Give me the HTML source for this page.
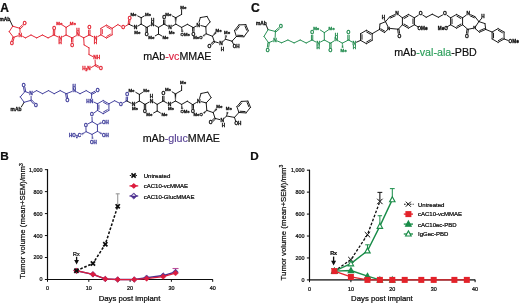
<!DOCTYPE html>
<html><head><meta charset="utf-8"><title>ADC structures and tumor volume</title>
<style>
html,body{margin:0;padding:0;background:#fff;}
svg{display:block;font-family:"Liberation Sans",Arial,Helvetica,sans-serif;}
</style></head>
<body>
<svg width="520" height="303" viewBox="0 0 520 303">
<defs><filter id="soft" x="-2%" y="-2%" width="104%" height="104%"><feGaussianBlur stdDeviation="0.38"/></filter></defs>
<rect width="520" height="303" fill="#fff"/>
<g filter="url(#soft)">
<g stroke-linecap="round" stroke-linejoin="round">
<text x="4.9" y="20.96" fill="#111" stroke="#111" stroke-width="0.3" font-size="4.9" text-anchor="middle" font-weight="bold">mAb</text>
<line x1="9.9" y1="20.4" x2="12.7" y2="26.2" stroke="#111" stroke-width="0.95"/>
<line x1="12.7" y1="26.2" x2="19.8" y2="28.3" stroke="#e21f2d" stroke-width="0.95"/>
<line x1="19.8" y1="28.3" x2="20.11" y2="32.41" stroke="#e21f2d" stroke-width="0.95"/>
<line x1="17.84" y1="35.83" x2="13.5" y2="37.3" stroke="#e21f2d" stroke-width="0.95"/>
<line x1="13.5" y1="37.3" x2="9.2" y2="31.7" stroke="#e21f2d" stroke-width="0.95"/>
<line x1="9.2" y1="31.7" x2="12.7" y2="26.2" stroke="#e21f2d" stroke-width="0.95"/>
<line x1="20.27" y1="28.79" x2="23.29" y2="25.89" stroke="#e21f2d" stroke-width="0.95"/>
<line x1="19.33" y1="27.81" x2="22.36" y2="24.91" stroke="#e21f2d" stroke-width="0.95"/>
<line x1="12.85" y1="37.13" x2="11.9" y2="40.81" stroke="#e21f2d" stroke-width="0.95"/>
<line x1="14.15" y1="37.47" x2="13.2" y2="41.15" stroke="#e21f2d" stroke-width="0.95"/>
<line x1="22.56" y1="36.29" x2="25.4" y2="37.9" stroke="#e21f2d" stroke-width="0.95"/>
<line x1="25.4" y1="37.9" x2="31" y2="35" stroke="#e21f2d" stroke-width="0.95"/>
<line x1="31" y1="35" x2="36.7" y2="37.9" stroke="#e21f2d" stroke-width="0.95"/>
<line x1="36.7" y1="37.9" x2="42.4" y2="35" stroke="#e21f2d" stroke-width="0.95"/>
<line x1="42.4" y1="35" x2="48.1" y2="37.9" stroke="#e21f2d" stroke-width="0.95"/>
<line x1="48.1" y1="37.9" x2="53.9" y2="35" stroke="#e21f2d" stroke-width="0.95"/>
<line x1="54.57" y1="35.03" x2="54.77" y2="30.43" stroke="#e21f2d" stroke-width="0.95"/>
<line x1="53.23" y1="34.97" x2="53.42" y2="30.37" stroke="#e21f2d" stroke-width="0.95"/>
<line x1="53.9" y1="35" x2="57.84" y2="36.81" stroke="#e21f2d" stroke-width="0.95"/>
<text x="60.2" y="43.96" fill="#e21f2d" stroke="#e21f2d" stroke-width="0.3" font-size="4.6" text-anchor="middle" font-weight="bold">H</text>
<line x1="62.53" y1="36.75" x2="66.1" y2="35" stroke="#e21f2d" stroke-width="0.95"/>
<line x1="66.1" y1="35" x2="66.1" y2="27.4" stroke="#e21f2d" stroke-width="0.95"/>
<line x1="66.1" y1="27.4" x2="62.3" y2="25" stroke="#e21f2d" stroke-width="0.95"/>
<line x1="66.1" y1="27.4" x2="69.9" y2="25" stroke="#e21f2d" stroke-width="0.95"/>
<text x="59.3" y="25.18" fill="#e21f2d" stroke="#e21f2d" stroke-width="0.3" font-size="4.4" text-anchor="middle" font-weight="bold">Me</text>
<text x="72.9" y="25.18" fill="#e21f2d" stroke="#e21f2d" stroke-width="0.3" font-size="4.4" text-anchor="middle" font-weight="bold">Me</text>
<line x1="66.1" y1="35" x2="72.2" y2="37.9" stroke="#e21f2d" stroke-width="0.95"/>
<line x1="71.53" y1="37.9" x2="71.53" y2="42.2" stroke="#e21f2d" stroke-width="0.95"/>
<line x1="72.88" y1="37.9" x2="72.88" y2="42.2" stroke="#e21f2d" stroke-width="0.95"/>
<line x1="72.2" y1="37.9" x2="75.63" y2="35.97" stroke="#e21f2d" stroke-width="0.95"/>
<text x="77.9" y="32.06" fill="#e21f2d" stroke="#e21f2d" stroke-width="0.3" font-size="4.6" text-anchor="middle" font-weight="bold">H</text>
<line x1="80.19" y1="35.93" x2="83.7" y2="37.8" stroke="#e21f2d" stroke-width="0.95"/>
<line x1="83.7" y1="37.8" x2="89.3" y2="35" stroke="#e21f2d" stroke-width="0.95"/>
<line x1="89.97" y1="35" x2="89.97" y2="30.1" stroke="#e21f2d" stroke-width="0.95"/>
<line x1="88.62" y1="35" x2="88.62" y2="30.1" stroke="#e21f2d" stroke-width="0.95"/>
<line x1="89.3" y1="35" x2="93.14" y2="36.8" stroke="#e21f2d" stroke-width="0.95"/>
<text x="95.5" y="43.96" fill="#e21f2d" stroke="#e21f2d" stroke-width="0.3" font-size="4.6" text-anchor="middle" font-weight="bold">H</text>
<line x1="97.76" y1="36.62" x2="100.87" y2="34.85" stroke="#e21f2d" stroke-width="0.95"/>
<line x1="106.5" y1="25.1" x2="112.13" y2="28.35" stroke="#e21f2d" stroke-width="0.95"/>
<line x1="106.75" y1="26.86" x2="110.48" y2="29.01" stroke="#e21f2d" stroke-width="0.95"/>
<line x1="112.13" y1="28.35" x2="112.13" y2="34.85" stroke="#e21f2d" stroke-width="0.95"/>
<line x1="112.13" y1="34.85" x2="106.5" y2="38.1" stroke="#e21f2d" stroke-width="0.95"/>
<line x1="110.48" y1="34.19" x2="106.75" y2="36.34" stroke="#e21f2d" stroke-width="0.95"/>
<line x1="106.5" y1="38.1" x2="100.87" y2="34.85" stroke="#e21f2d" stroke-width="0.95"/>
<line x1="100.87" y1="34.85" x2="100.87" y2="28.35" stroke="#e21f2d" stroke-width="0.95"/>
<line x1="102.27" y1="33.75" x2="102.27" y2="29.45" stroke="#e21f2d" stroke-width="0.95"/>
<line x1="100.87" y1="28.35" x2="106.5" y2="25.1" stroke="#e21f2d" stroke-width="0.95"/>
<line x1="112.13" y1="28.35" x2="117.9" y2="24.6" stroke="#e21f2d" stroke-width="0.95"/>
<line x1="117.9" y1="24.6" x2="120.92" y2="26.25" stroke="#e21f2d" stroke-width="0.95"/>
<line x1="125.44" y1="26.18" x2="128.8" y2="24.2" stroke="#e21f2d" stroke-width="0.95"/>
<line x1="129.47" y1="24.29" x2="129.94" y2="20.56" stroke="#e21f2d" stroke-width="0.95"/>
<line x1="128.13" y1="24.11" x2="128.6" y2="20.39" stroke="#e21f2d" stroke-width="0.95"/>
<line x1="83.7" y1="37.8" x2="84.1" y2="44.9" stroke="#e21f2d" stroke-width="0.95"/>
<line x1="84.1" y1="44.9" x2="89" y2="47.8" stroke="#e21f2d" stroke-width="0.95"/>
<line x1="89" y1="47.8" x2="89" y2="54.6" stroke="#e21f2d" stroke-width="0.95"/>
<line x1="89" y1="54.6" x2="92.96" y2="56.64" stroke="#e21f2d" stroke-width="0.95"/>
<line x1="95.09" y1="60" x2="95.3" y2="65.2" stroke="#e21f2d" stroke-width="0.95"/>
<text x="98.4" y="59.36" fill="#e21f2d" stroke="#e21f2d" stroke-width="0.3" font-size="4.6" text-anchor="middle" font-weight="bold">H</text>
<line x1="94.99" y1="65.8" x2="98.38" y2="67.59" stroke="#e21f2d" stroke-width="0.95"/>
<line x1="95.61" y1="64.6" x2="99.01" y2="66.39" stroke="#e21f2d" stroke-width="0.95"/>
<line x1="95.3" y1="65.2" x2="91" y2="67.6" stroke="#e21f2d" stroke-width="0.95"/>
<text x="90.6" y="69.9" fill="#e21f2d" stroke="#e21f2d" stroke-width="0.3" font-size="4.6" text-anchor="end" font-weight="bold">H<tspan font-size="3.2" dy="0.9">2</tspan><tspan dy="-0.9">N</tspan></text>
<text x="20.3" y="36.76" fill="#e21f2d" stroke="#e21f2d" stroke-width="0.3" font-size="4.9" text-anchor="middle" font-weight="bold">N</text>
<text x="24.7" y="25.36" fill="#e21f2d" stroke="#e21f2d" stroke-width="0.3" font-size="4.9" text-anchor="middle" font-weight="bold">O</text>
<text x="11.9" y="45.26" fill="#e21f2d" stroke="#e21f2d" stroke-width="0.3" font-size="4.9" text-anchor="middle" font-weight="bold">O</text>
<text x="54.2" y="29.56" fill="#e21f2d" stroke="#e21f2d" stroke-width="0.3" font-size="4.9" text-anchor="middle" font-weight="bold">O</text>
<text x="60.2" y="39.66" fill="#e21f2d" stroke="#e21f2d" stroke-width="0.3" font-size="4.9" text-anchor="middle" font-weight="bold">N</text>
<text x="72.2" y="46.56" fill="#e21f2d" stroke="#e21f2d" stroke-width="0.3" font-size="4.9" text-anchor="middle" font-weight="bold">O</text>
<text x="77.9" y="36.46" fill="#e21f2d" stroke="#e21f2d" stroke-width="0.3" font-size="4.9" text-anchor="middle" font-weight="bold">N</text>
<text x="89.3" y="29.26" fill="#e21f2d" stroke="#e21f2d" stroke-width="0.3" font-size="4.9" text-anchor="middle" font-weight="bold">O</text>
<text x="95.5" y="39.66" fill="#e21f2d" stroke="#e21f2d" stroke-width="0.3" font-size="4.9" text-anchor="middle" font-weight="bold">N</text>
<text x="123.2" y="29.26" fill="#e21f2d" stroke="#e21f2d" stroke-width="0.3" font-size="4.9" text-anchor="middle" font-weight="bold">O</text>
<text x="129.6" y="19.66" fill="#e21f2d" stroke="#e21f2d" stroke-width="0.3" font-size="4.9" text-anchor="middle" font-weight="bold">O</text>
<text x="95" y="59.46" fill="#e21f2d" stroke="#e21f2d" stroke-width="0.3" font-size="4.9" text-anchor="middle" font-weight="bold">N</text>
<text x="101" y="69.96" fill="#e21f2d" stroke="#e21f2d" stroke-width="0.3" font-size="4.9" text-anchor="middle" font-weight="bold">O</text>
<line x1="128.8" y1="24.2" x2="133.25" y2="26.29" stroke="#111" stroke-width="0.95"/>
<text x="137.3" y="33.78" fill="#111" stroke="#111" stroke-width="0.3" font-size="4.4" text-anchor="middle" font-weight="bold">Me</text>
<line x1="137.84" y1="26.08" x2="141.2" y2="24.1" stroke="#111" stroke-width="0.95"/>
<line x1="141.2" y1="24.1" x2="141.2" y2="17.7" stroke="#111" stroke-width="0.95"/>
<text x="133.5" y="15.88" fill="#111" stroke="#111" stroke-width="0.3" font-size="4.4" text-anchor="middle" font-weight="bold">Me</text>
<line x1="141.2" y1="17.7" x2="137.73" y2="16" stroke="#111" stroke-width="0.95"/>
<text x="148" y="15.88" fill="#111" stroke="#111" stroke-width="0.3" font-size="4.4" text-anchor="middle" font-weight="bold">Me</text>
<line x1="141.2" y1="17.7" x2="144.26" y2="16" stroke="#111" stroke-width="0.95"/>
<line x1="141.2" y1="24.1" x2="146.7" y2="27.4" stroke="#111" stroke-width="0.95"/>
<line x1="146.02" y1="27.4" x2="146.02" y2="31.7" stroke="#111" stroke-width="0.95"/>
<line x1="147.38" y1="27.4" x2="147.38" y2="31.7" stroke="#111" stroke-width="0.95"/>
<line x1="146.7" y1="27.4" x2="150.33" y2="25.37" stroke="#111" stroke-width="0.95"/>
<text x="152.6" y="21.56" fill="#111" stroke="#111" stroke-width="0.3" font-size="4.6" text-anchor="middle" font-weight="bold">H</text>
<line x1="154.87" y1="25.37" x2="158.5" y2="27.4" stroke="#111" stroke-width="0.95"/>
<line x1="158.5" y1="27.4" x2="158.5" y2="34" stroke="#111" stroke-width="0.95"/>
<text x="151.3" y="39.28" fill="#111" stroke="#111" stroke-width="0.3" font-size="4.4" text-anchor="middle" font-weight="bold">Me</text>
<line x1="158.5" y1="34" x2="155.26" y2="35.85" stroke="#111" stroke-width="0.95"/>
<text x="165.5" y="39.28" fill="#111" stroke="#111" stroke-width="0.3" font-size="4.4" text-anchor="middle" font-weight="bold">Me</text>
<line x1="158.5" y1="34" x2="161.65" y2="35.85" stroke="#111" stroke-width="0.95"/>
<line x1="158.5" y1="27.4" x2="164.2" y2="24.1" stroke="#111" stroke-width="0.95"/>
<line x1="164.88" y1="24.1" x2="164.88" y2="20" stroke="#111" stroke-width="0.95"/>
<line x1="163.52" y1="24.1" x2="163.52" y2="20" stroke="#111" stroke-width="0.95"/>
<line x1="164.2" y1="24.1" x2="167.83" y2="26.13" stroke="#111" stroke-width="0.95"/>
<text x="171.7" y="33.68" fill="#111" stroke="#111" stroke-width="0.3" font-size="4.4" text-anchor="middle" font-weight="bold">Me</text>
<line x1="172.35" y1="26.1" x2="175.8" y2="24.1" stroke="#111" stroke-width="0.95"/>
<polygon points="175.8,24.1 176.45,17.7 175.15,17.7" fill="#111" stroke="#111" stroke-width="0.3"/>
<text x="168.3" y="15.98" fill="#111" stroke="#111" stroke-width="0.3" font-size="4.4" text-anchor="middle" font-weight="bold">Me</text>
<line x1="175.8" y1="17.7" x2="172.43" y2="16.05" stroke="#111" stroke-width="0.95"/>
<line x1="175.8" y1="17.7" x2="181.6" y2="14.4" stroke="#111" stroke-width="0.95"/>
<line x1="181.6" y1="14.4" x2="181.6" y2="9.6" stroke="#111" stroke-width="0.95"/>
<text x="183.3" y="8.98" fill="#111" stroke="#111" stroke-width="0.3" font-size="4.4" text-anchor="middle" font-weight="bold">Me</text>
<line x1="175.8" y1="24.1" x2="181.6" y2="27.4" stroke="#111" stroke-width="0.95"/>
<polygon points="181.6,27.4 181.56,31.99 182.84,31.81" fill="#111" stroke="#111" stroke-width="0.3"/>
<text x="180.6" y="35.8" fill="#111" stroke="#111" stroke-width="0.3" font-size="4.3" text-anchor="start" font-weight="bold">OMe</text>
<line x1="181.6" y1="27.4" x2="187.4" y2="24.3" stroke="#111" stroke-width="0.95"/>
<line x1="187.4" y1="24.3" x2="193.3" y2="27.6" stroke="#111" stroke-width="0.95"/>
<line x1="192.62" y1="27.6" x2="192.62" y2="31.4" stroke="#111" stroke-width="0.95"/>
<line x1="193.98" y1="27.6" x2="193.98" y2="31.4" stroke="#111" stroke-width="0.95"/>
<line x1="193.3" y1="27.6" x2="195.92" y2="26.18" stroke="#111" stroke-width="0.95"/>
<line x1="199.01" y1="22.3" x2="200.3" y2="17.6" stroke="#111" stroke-width="0.95"/>
<line x1="200.3" y1="17.6" x2="207" y2="16.4" stroke="#111" stroke-width="0.95"/>
<line x1="207" y1="16.4" x2="210.1" y2="21.9" stroke="#111" stroke-width="0.95"/>
<line x1="210.1" y1="21.9" x2="205.8" y2="26.8" stroke="#111" stroke-width="0.95"/>
<line x1="205.8" y1="26.8" x2="200.92" y2="25.56" stroke="#111" stroke-width="0.95"/>
<line x1="205.8" y1="26.8" x2="206.2" y2="33.8" stroke="#111" stroke-width="0.95"/>
<text x="197.9" y="39.2" fill="#111" stroke="#111" stroke-width="0.3" font-size="4.3" text-anchor="middle" font-weight="bold">MeO</text>
<polygon points="206.2,33.8 203.08,35.35 203.72,36.25" fill="#111" stroke="#111" stroke-width="0.3"/>
<line x1="206.2" y1="33.8" x2="212.5" y2="36.3" stroke="#111" stroke-width="0.95"/>
<text x="218.6" y="31.78" fill="#111" stroke="#111" stroke-width="0.3" font-size="4.4" text-anchor="middle" font-weight="bold">Me</text>
<polygon points="212.5,36.3 216.38,32.98 215.33,32.05" fill="#111" stroke="#111" stroke-width="0.3"/>
<line x1="212.5" y1="36.3" x2="214.3" y2="41.6" stroke="#111" stroke-width="0.95"/>
<line x1="213.85" y1="41.1" x2="210.99" y2="43.66" stroke="#111" stroke-width="0.95"/>
<line x1="214.75" y1="42.1" x2="211.89" y2="44.67" stroke="#111" stroke-width="0.95"/>
<line x1="214.3" y1="41.6" x2="218.4" y2="42.78" stroke="#111" stroke-width="0.95"/>
<text x="222.4" y="50.56" fill="#111" stroke="#111" stroke-width="0.3" font-size="4.6" text-anchor="middle" font-weight="bold">H</text>
<line x1="222.78" y1="41.7" x2="225.4" y2="39.2" stroke="#111" stroke-width="0.95"/>
<text x="227.1" y="33.68" fill="#111" stroke="#111" stroke-width="0.3" font-size="4.4" text-anchor="middle" font-weight="bold">Me</text>
<polygon points="225.4,39.2 226.8,35.79 225.53,35.51" fill="#111" stroke="#111" stroke-width="0.3"/>
<line x1="225.4" y1="39.2" x2="232" y2="41.2" stroke="#111" stroke-width="0.95"/>
<text x="236.2" y="48.05" fill="#111" stroke="#111" stroke-width="0.3" font-size="4.6" text-anchor="middle" font-weight="bold">OH</text>
<line x1="232" y1="41.2" x2="233.61" y2="44.42" stroke="#111" stroke-width="0.95"/>
<line x1="232" y1="41.2" x2="236.4" y2="36.5" stroke="#111" stroke-width="0.95"/>
<line x1="236.4" y1="36.5" x2="234.5" y2="30.5" stroke="#111" stroke-width="0.95"/>
<line x1="234.5" y1="30.5" x2="238.9" y2="24.9" stroke="#111" stroke-width="0.95"/>
<line x1="236.2" y1="30.44" x2="239.24" y2="26.57" stroke="#111" stroke-width="0.95"/>
<line x1="238.9" y1="24.9" x2="245.8" y2="24.6" stroke="#111" stroke-width="0.95"/>
<line x1="245.8" y1="24.6" x2="248.3" y2="30.8" stroke="#111" stroke-width="0.95"/>
<line x1="245.01" y1="26.11" x2="246.68" y2="30.27" stroke="#111" stroke-width="0.95"/>
<line x1="248.3" y1="30.8" x2="243.9" y2="36.8" stroke="#111" stroke-width="0.95"/>
<line x1="243.9" y1="36.8" x2="236.4" y2="36.5" stroke="#111" stroke-width="0.95"/>
<line x1="242.85" y1="35.46" x2="237.55" y2="35.25" stroke="#111" stroke-width="0.95"/>
<text x="135.6" y="29.16" fill="#111" stroke="#111" stroke-width="0.3" font-size="4.9" text-anchor="middle" font-weight="bold">N</text>
<text x="146.7" y="36.06" fill="#111" stroke="#111" stroke-width="0.3" font-size="4.9" text-anchor="middle" font-weight="bold">O</text>
<text x="152.6" y="25.86" fill="#111" stroke="#111" stroke-width="0.3" font-size="4.9" text-anchor="middle" font-weight="bold">N</text>
<text x="164.2" y="19.16" fill="#111" stroke="#111" stroke-width="0.3" font-size="4.9" text-anchor="middle" font-weight="bold">O</text>
<text x="170.1" y="29.16" fill="#111" stroke="#111" stroke-width="0.3" font-size="4.9" text-anchor="middle" font-weight="bold">N</text>
<text x="193.3" y="35.76" fill="#111" stroke="#111" stroke-width="0.3" font-size="4.9" text-anchor="middle" font-weight="bold">O</text>
<text x="198.3" y="26.66" fill="#111" stroke="#111" stroke-width="0.3" font-size="4.9" text-anchor="middle" font-weight="bold">N</text>
<text x="209.5" y="47.66" fill="#111" stroke="#111" stroke-width="0.3" font-size="4.9" text-anchor="middle" font-weight="bold">O</text>
<text x="220.9" y="45.26" fill="#111" stroke="#111" stroke-width="0.3" font-size="4.9" text-anchor="middle" font-weight="bold">N</text>
<text x="16" y="110.76" fill="#111" stroke="#111" stroke-width="0.3" font-size="4.9" text-anchor="middle" font-weight="bold">mAb</text>
<line x1="24.1" y1="102.3" x2="21.3" y2="107" stroke="#111" stroke-width="0.95"/>
<line x1="28.65" y1="92.82" x2="25" y2="91.5" stroke="#3c3a99" stroke-width="0.95"/>
<line x1="25" y1="91.5" x2="20.3" y2="96.9" stroke="#3c3a99" stroke-width="0.95"/>
<line x1="20.3" y1="96.9" x2="24.1" y2="102.3" stroke="#3c3a99" stroke-width="0.95"/>
<line x1="24.1" y1="102.3" x2="31.1" y2="100.3" stroke="#3c3a99" stroke-width="0.95"/>
<line x1="31.1" y1="100.3" x2="31.1" y2="96.3" stroke="#3c3a99" stroke-width="0.95"/>
<line x1="25.66" y1="91.37" x2="24.86" y2="87.32" stroke="#3c3a99" stroke-width="0.95"/>
<line x1="24.34" y1="91.63" x2="23.54" y2="87.58" stroke="#3c3a99" stroke-width="0.95"/>
<line x1="30.61" y1="100.76" x2="33.63" y2="103.97" stroke="#3c3a99" stroke-width="0.95"/>
<line x1="31.59" y1="99.84" x2="34.61" y2="103.04" stroke="#3c3a99" stroke-width="0.95"/>
<line x1="33.36" y1="92.42" x2="36.6" y2="90.6" stroke="#3c3a99" stroke-width="0.95"/>
<line x1="36.6" y1="90.6" x2="42.6" y2="93.7" stroke="#3c3a99" stroke-width="0.95"/>
<line x1="42.6" y1="93.7" x2="48.5" y2="90.6" stroke="#3c3a99" stroke-width="0.95"/>
<line x1="48.5" y1="90.6" x2="54.2" y2="93.7" stroke="#3c3a99" stroke-width="0.95"/>
<line x1="54.2" y1="93.7" x2="60.2" y2="90.6" stroke="#3c3a99" stroke-width="0.95"/>
<line x1="60.2" y1="90.6" x2="66.3" y2="93.7" stroke="#3c3a99" stroke-width="0.95"/>
<line x1="65.63" y1="93.81" x2="66.32" y2="98.04" stroke="#3c3a99" stroke-width="0.95"/>
<line x1="66.97" y1="93.59" x2="67.65" y2="97.83" stroke="#3c3a99" stroke-width="0.95"/>
<line x1="66.3" y1="93.7" x2="71.78" y2="91.55" stroke="#3c3a99" stroke-width="0.95"/>
<text x="74.2" y="87.86" fill="#3c3a99" stroke="#3c3a99" stroke-width="0.3" font-size="4.6" text-anchor="middle" font-weight="bold">H</text>
<line x1="76.49" y1="91.83" x2="80" y2="93.7" stroke="#3c3a99" stroke-width="0.95"/>
<line x1="80" y1="93.7" x2="86.2" y2="90.6" stroke="#3c3a99" stroke-width="0.95"/>
<line x1="86.2" y1="90.6" x2="91.6" y2="93.7" stroke="#3c3a99" stroke-width="0.95"/>
<line x1="91.91" y1="94.3" x2="95.69" y2="92.38" stroke="#3c3a99" stroke-width="0.95"/>
<line x1="91.29" y1="93.1" x2="95.08" y2="91.18" stroke="#3c3a99" stroke-width="0.95"/>
<line x1="91.6" y1="93.7" x2="91.6" y2="98.4" stroke="#3c3a99" stroke-width="0.95"/>
<text x="88" y="102.66" fill="#3c3a99" stroke="#3c3a99" stroke-width="0.3" font-size="4.6" text-anchor="middle" font-weight="bold">H</text>
<line x1="93.95" y1="102.12" x2="97.48" y2="103.8" stroke="#3c3a99" stroke-width="0.95"/>
<line x1="103.2" y1="100.5" x2="108.92" y2="103.8" stroke="#3c3a99" stroke-width="0.95"/>
<line x1="103.45" y1="102.26" x2="107.26" y2="104.46" stroke="#3c3a99" stroke-width="0.95"/>
<line x1="108.92" y1="103.8" x2="108.92" y2="110.4" stroke="#3c3a99" stroke-width="0.95"/>
<line x1="108.92" y1="110.4" x2="103.2" y2="113.7" stroke="#3c3a99" stroke-width="0.95"/>
<line x1="107.26" y1="109.74" x2="103.45" y2="111.94" stroke="#3c3a99" stroke-width="0.95"/>
<line x1="103.2" y1="113.7" x2="97.48" y2="110.4" stroke="#3c3a99" stroke-width="0.95"/>
<line x1="97.48" y1="110.4" x2="97.48" y2="103.8" stroke="#3c3a99" stroke-width="0.95"/>
<line x1="98.88" y1="109.3" x2="98.88" y2="104.9" stroke="#3c3a99" stroke-width="0.95"/>
<line x1="97.48" y1="103.8" x2="103.2" y2="100.5" stroke="#3c3a99" stroke-width="0.95"/>
<line x1="97.48" y1="110.4" x2="94" y2="112.96" stroke="#3c3a99" stroke-width="0.95"/>
<line x1="108.92" y1="103.8" x2="114.6" y2="100.7" stroke="#3c3a99" stroke-width="0.95"/>
<line x1="114.6" y1="100.7" x2="118.69" y2="102.81" stroke="#3c3a99" stroke-width="0.95"/>
<line x1="123.28" y1="102.76" x2="126.7" y2="100.9" stroke="#3c3a99" stroke-width="0.95"/>
<line x1="127.37" y1="100.94" x2="127.61" y2="97.14" stroke="#3c3a99" stroke-width="0.95"/>
<line x1="126.03" y1="100.86" x2="126.26" y2="97.05" stroke="#3c3a99" stroke-width="0.95"/>
<line x1="92.01" y1="117.1" x2="92.2" y2="121.7" stroke="#3c3a99" stroke-width="0.95"/>
<line x1="92.2" y1="121.7" x2="97.4" y2="124.8" stroke="#3c3a99" stroke-width="0.95"/>
<line x1="97.4" y1="124.8" x2="97.5" y2="131.3" stroke="#3c3a99" stroke-width="0.95"/>
<line x1="97.5" y1="131.3" x2="92" y2="134.4" stroke="#3c3a99" stroke-width="0.95"/>
<line x1="92" y1="134.4" x2="86.1" y2="131.7" stroke="#3c3a99" stroke-width="0.95"/>
<line x1="86.1" y1="131.7" x2="85.92" y2="127.6" stroke="#3c3a99" stroke-width="0.95"/>
<line x1="88.11" y1="123.81" x2="92.2" y2="121.7" stroke="#3c3a99" stroke-width="0.95"/>
<polygon points="97.4,124.8 101.68,123.23 101.12,122.17" fill="#3c3a99" stroke="#3c3a99" stroke-width="0.3"/>
<text x="102" y="123.6" fill="#3c3a99" stroke="#3c3a99" stroke-width="0.3" font-size="4.6" text-anchor="start" font-weight="bold">OH</text>
<polygon points="97.5,131.3 101.18,134.31 101.82,133.29" fill="#3c3a99" stroke="#3c3a99" stroke-width="0.3"/>
<text x="102" y="136.9" fill="#3c3a99" stroke="#3c3a99" stroke-width="0.3" font-size="4.6" text-anchor="start" font-weight="bold">OH</text>
<polygon points="92,134.4 91.85,138.65 92.95,138.55" fill="#3c3a99" stroke="#3c3a99" stroke-width="0.3"/>
<text x="89.9" y="144.1" fill="#3c3a99" stroke="#3c3a99" stroke-width="0.3" font-size="4.6" text-anchor="start" font-weight="bold">OH</text>
<polygon points="86.1,131.7 81.3,133.78 81.9,134.82" fill="#3c3a99" stroke="#3c3a99" stroke-width="0.3"/>
<text x="81.0" y="137.2" fill="#3c3a99" stroke="#3c3a99" stroke-width="0.3" font-size="4.6" text-anchor="end" font-weight="bold">HO<tspan font-size="3.2" dy="0.9">2</tspan><tspan dy="-0.9">C</tspan></text>
<text x="31.1" y="95.46" fill="#3c3a99" stroke="#3c3a99" stroke-width="0.3" font-size="4.9" text-anchor="middle" font-weight="bold">N</text>
<text x="23.7" y="86.66" fill="#3c3a99" stroke="#3c3a99" stroke-width="0.3" font-size="4.9" text-anchor="middle" font-weight="bold">O</text>
<text x="35.9" y="107.16" fill="#3c3a99" stroke="#3c3a99" stroke-width="0.3" font-size="4.9" text-anchor="middle" font-weight="bold">O</text>
<text x="67.4" y="102.26" fill="#3c3a99" stroke="#3c3a99" stroke-width="0.3" font-size="4.9" text-anchor="middle" font-weight="bold">O</text>
<text x="74.2" y="92.36" fill="#3c3a99" stroke="#3c3a99" stroke-width="0.3" font-size="4.9" text-anchor="middle" font-weight="bold">N</text>
<text x="97.7" y="92.36" fill="#3c3a99" stroke="#3c3a99" stroke-width="0.3" font-size="4.9" text-anchor="middle" font-weight="bold">O</text>
<text x="91.6" y="102.76" fill="#3c3a99" stroke="#3c3a99" stroke-width="0.3" font-size="4.9" text-anchor="middle" font-weight="bold">N</text>
<text x="91.9" y="116.26" fill="#3c3a99" stroke="#3c3a99" stroke-width="0.3" font-size="4.9" text-anchor="middle" font-weight="bold">O</text>
<text x="121" y="105.76" fill="#3c3a99" stroke="#3c3a99" stroke-width="0.3" font-size="4.9" text-anchor="middle" font-weight="bold">O</text>
<text x="127.1" y="96.26" fill="#3c3a99" stroke="#3c3a99" stroke-width="0.3" font-size="4.9" text-anchor="middle" font-weight="bold">O</text>
<text x="85.8" y="126.76" fill="#3c3a99" stroke="#3c3a99" stroke-width="0.3" font-size="4.9" text-anchor="middle" font-weight="bold">O</text>
<line x1="126.7" y1="100.9" x2="131.19" y2="103.21" stroke="#111" stroke-width="0.95"/>
<text x="135" y="110.38" fill="#111" stroke="#111" stroke-width="0.3" font-size="4.4" text-anchor="middle" font-weight="bold">Me</text>
<line x1="135.75" y1="103.1" x2="139.4" y2="101" stroke="#111" stroke-width="0.95"/>
<line x1="139.4" y1="101" x2="139.4" y2="94.4" stroke="#111" stroke-width="0.95"/>
<text x="131.5" y="91.98" fill="#111" stroke="#111" stroke-width="0.3" font-size="4.4" text-anchor="middle" font-weight="bold">Me</text>
<line x1="139.4" y1="94.4" x2="135.84" y2="92.4" stroke="#111" stroke-width="0.95"/>
<text x="146.4" y="91.98" fill="#111" stroke="#111" stroke-width="0.3" font-size="4.4" text-anchor="middle" font-weight="bold">Me</text>
<line x1="139.4" y1="94.4" x2="142.55" y2="92.4" stroke="#111" stroke-width="0.95"/>
<line x1="139.4" y1="101" x2="145" y2="104.4" stroke="#111" stroke-width="0.95"/>
<line x1="144.32" y1="104.4" x2="144.32" y2="108.8" stroke="#111" stroke-width="0.95"/>
<line x1="145.68" y1="104.4" x2="145.68" y2="108.8" stroke="#111" stroke-width="0.95"/>
<line x1="145" y1="104.4" x2="149.13" y2="102.07" stroke="#111" stroke-width="0.95"/>
<text x="151.4" y="98.06" fill="#111" stroke="#111" stroke-width="0.3" font-size="4.6" text-anchor="middle" font-weight="bold">H</text>
<line x1="153.61" y1="102.17" x2="157.2" y2="104.4" stroke="#111" stroke-width="0.95"/>
<line x1="157.2" y1="104.4" x2="157.2" y2="111" stroke="#111" stroke-width="0.95"/>
<text x="149.3" y="116.48" fill="#111" stroke="#111" stroke-width="0.3" font-size="4.4" text-anchor="middle" font-weight="bold">Me</text>
<line x1="157.2" y1="111" x2="153.65" y2="112.95" stroke="#111" stroke-width="0.95"/>
<text x="164.5" y="116.48" fill="#111" stroke="#111" stroke-width="0.3" font-size="4.4" text-anchor="middle" font-weight="bold">Me</text>
<line x1="157.2" y1="111" x2="160.48" y2="112.95" stroke="#111" stroke-width="0.95"/>
<line x1="157.2" y1="104.4" x2="163.3" y2="101" stroke="#111" stroke-width="0.95"/>
<line x1="163.98" y1="101" x2="163.98" y2="96.3" stroke="#111" stroke-width="0.95"/>
<line x1="162.62" y1="101" x2="162.62" y2="96.3" stroke="#111" stroke-width="0.95"/>
<line x1="163.3" y1="101" x2="167.13" y2="103.13" stroke="#111" stroke-width="0.95"/>
<text x="171" y="110.38" fill="#111" stroke="#111" stroke-width="0.3" font-size="4.4" text-anchor="middle" font-weight="bold">Me</text>
<line x1="171.67" y1="103.13" x2="175.5" y2="101" stroke="#111" stroke-width="0.95"/>
<polygon points="175.5,101 176.15,93.9 174.85,93.9" fill="#111" stroke="#111" stroke-width="0.3"/>
<text x="168" y="91.48" fill="#111" stroke="#111" stroke-width="0.3" font-size="4.4" text-anchor="middle" font-weight="bold">Me</text>
<line x1="175.5" y1="93.9" x2="172.12" y2="91.9" stroke="#111" stroke-width="0.95"/>
<line x1="175.5" y1="93.9" x2="181.6" y2="90.4" stroke="#111" stroke-width="0.95"/>
<line x1="181.6" y1="90.4" x2="181.6" y2="85.6" stroke="#111" stroke-width="0.95"/>
<text x="183.1" y="84.48" fill="#111" stroke="#111" stroke-width="0.3" font-size="4.4" text-anchor="middle" font-weight="bold">Me</text>
<line x1="175.5" y1="101" x2="181.6" y2="104.4" stroke="#111" stroke-width="0.95"/>
<polygon points="181.6,104.4 181.35,109.06 182.65,108.94" fill="#111" stroke="#111" stroke-width="0.3"/>
<text x="180.4" y="112.9" fill="#111" stroke="#111" stroke-width="0.3" font-size="4.3" text-anchor="start" font-weight="bold">OMe</text>
<line x1="181.6" y1="104.4" x2="187.3" y2="101.2" stroke="#111" stroke-width="0.95"/>
<line x1="187.3" y1="101.2" x2="192.8" y2="104.7" stroke="#111" stroke-width="0.95"/>
<line x1="192.12" y1="104.7" x2="192.12" y2="108.5" stroke="#111" stroke-width="0.95"/>
<line x1="193.48" y1="104.7" x2="193.48" y2="108.5" stroke="#111" stroke-width="0.95"/>
<line x1="192.8" y1="104.7" x2="196.5" y2="102.42" stroke="#111" stroke-width="0.95"/>
<line x1="199.56" y1="98.41" x2="201" y2="93.5" stroke="#111" stroke-width="0.95"/>
<line x1="201" y1="93.5" x2="207.8" y2="92.1" stroke="#111" stroke-width="0.95"/>
<line x1="207.8" y1="92.1" x2="211.1" y2="97.7" stroke="#111" stroke-width="0.95"/>
<line x1="211.1" y1="97.7" x2="206.2" y2="102.9" stroke="#111" stroke-width="0.95"/>
<line x1="206.2" y1="102.9" x2="201.42" y2="101.67" stroke="#111" stroke-width="0.95"/>
<line x1="206.2" y1="102.9" x2="206.8" y2="110.4" stroke="#111" stroke-width="0.95"/>
<text x="198.2" y="116.4" fill="#111" stroke="#111" stroke-width="0.3" font-size="4.3" text-anchor="middle" font-weight="bold">MeO</text>
<polygon points="206.8,110.4 203.35,112.58 204.05,113.42" fill="#111" stroke="#111" stroke-width="0.3"/>
<line x1="206.8" y1="110.4" x2="213.2" y2="112.6" stroke="#111" stroke-width="0.95"/>
<text x="219.4" y="108.48" fill="#111" stroke="#111" stroke-width="0.3" font-size="4.4" text-anchor="middle" font-weight="bold">Me</text>
<polygon points="213.2,112.6 217.11,109.55 216.11,108.58" fill="#111" stroke="#111" stroke-width="0.3"/>
<line x1="213.2" y1="112.6" x2="215.1" y2="118.4" stroke="#111" stroke-width="0.95"/>
<line x1="214.63" y1="117.92" x2="212.09" y2="120.4" stroke="#111" stroke-width="0.95"/>
<line x1="215.57" y1="118.88" x2="213.03" y2="121.37" stroke="#111" stroke-width="0.95"/>
<line x1="215.1" y1="118.4" x2="219.68" y2="119.56" stroke="#111" stroke-width="0.95"/>
<text x="223.3" y="127.06" fill="#111" stroke="#111" stroke-width="0.3" font-size="4.6" text-anchor="middle" font-weight="bold">H</text>
<line x1="224.08" y1="118.4" x2="226.6" y2="116" stroke="#111" stroke-width="0.95"/>
<text x="228.8" y="110.18" fill="#111" stroke="#111" stroke-width="0.3" font-size="4.4" text-anchor="middle" font-weight="bold">Me</text>
<polygon points="226.6,116 228.22,112.47 226.96,112.13" fill="#111" stroke="#111" stroke-width="0.3"/>
<line x1="226.6" y1="116" x2="234.5" y2="117.4" stroke="#111" stroke-width="0.95"/>
<text x="238" y="125.35" fill="#111" stroke="#111" stroke-width="0.3" font-size="4.6" text-anchor="middle" font-weight="bold">OH</text>
<line x1="234.5" y1="117.4" x2="235.68" y2="121.31" stroke="#111" stroke-width="0.95"/>
<line x1="234.5" y1="117.4" x2="238.9" y2="112.5" stroke="#111" stroke-width="0.95"/>
<line x1="238.9" y1="112.5" x2="236.9" y2="106.6" stroke="#111" stroke-width="0.95"/>
<line x1="236.9" y1="106.6" x2="241.3" y2="101.4" stroke="#111" stroke-width="0.95"/>
<line x1="238.6" y1="106.6" x2="241.58" y2="103.08" stroke="#111" stroke-width="0.95"/>
<line x1="241.3" y1="101.4" x2="247.9" y2="101.1" stroke="#111" stroke-width="0.95"/>
<line x1="247.9" y1="101.1" x2="250.5" y2="107.3" stroke="#111" stroke-width="0.95"/>
<line x1="247.13" y1="102.62" x2="248.88" y2="106.79" stroke="#111" stroke-width="0.95"/>
<line x1="250.5" y1="107.3" x2="246.1" y2="112.9" stroke="#111" stroke-width="0.95"/>
<line x1="246.1" y1="112.9" x2="238.9" y2="112.5" stroke="#111" stroke-width="0.95"/>
<line x1="245.07" y1="111.54" x2="240.07" y2="111.26" stroke="#111" stroke-width="0.95"/>
<text x="133.5" y="106.16" fill="#111" stroke="#111" stroke-width="0.3" font-size="4.9" text-anchor="middle" font-weight="bold">N</text>
<text x="145" y="113.16" fill="#111" stroke="#111" stroke-width="0.3" font-size="4.9" text-anchor="middle" font-weight="bold">O</text>
<text x="151.4" y="102.56" fill="#111" stroke="#111" stroke-width="0.3" font-size="4.9" text-anchor="middle" font-weight="bold">N</text>
<text x="163.3" y="95.46" fill="#111" stroke="#111" stroke-width="0.3" font-size="4.9" text-anchor="middle" font-weight="bold">O</text>
<text x="169.4" y="106.16" fill="#111" stroke="#111" stroke-width="0.3" font-size="4.9" text-anchor="middle" font-weight="bold">N</text>
<text x="192.8" y="112.86" fill="#111" stroke="#111" stroke-width="0.3" font-size="4.9" text-anchor="middle" font-weight="bold">O</text>
<text x="198.8" y="102.76" fill="#111" stroke="#111" stroke-width="0.3" font-size="4.9" text-anchor="middle" font-weight="bold">N</text>
<text x="210.7" y="124.46" fill="#111" stroke="#111" stroke-width="0.3" font-size="4.9" text-anchor="middle" font-weight="bold">O</text>
<text x="222.2" y="121.96" fill="#111" stroke="#111" stroke-width="0.3" font-size="4.9" text-anchor="middle" font-weight="bold">N</text>
<text x="261.4" y="24.76" fill="#111" stroke="#111" stroke-width="0.3" font-size="4.9" text-anchor="middle" font-weight="bold">mAb</text>
<line x1="266" y1="24.8" x2="268.1" y2="29.6" stroke="#111" stroke-width="0.95"/>
<line x1="268.1" y1="29.6" x2="275.4" y2="31.5" stroke="#1e8a4c" stroke-width="0.95"/>
<line x1="275.4" y1="31.5" x2="275.12" y2="37.4" stroke="#1e8a4c" stroke-width="0.95"/>
<line x1="272.62" y1="41.04" x2="268.6" y2="42.8" stroke="#1e8a4c" stroke-width="0.95"/>
<line x1="268.6" y1="42.8" x2="264" y2="36.4" stroke="#1e8a4c" stroke-width="0.95"/>
<line x1="264" y1="36.4" x2="268.1" y2="29.6" stroke="#1e8a4c" stroke-width="0.95"/>
<line x1="275.84" y1="32.01" x2="279.47" y2="28.9" stroke="#1e8a4c" stroke-width="0.95"/>
<line x1="274.96" y1="30.99" x2="278.59" y2="27.88" stroke="#1e8a4c" stroke-width="0.95"/>
<line x1="267.93" y1="42.71" x2="267.36" y2="47.14" stroke="#1e8a4c" stroke-width="0.95"/>
<line x1="269.27" y1="42.89" x2="268.7" y2="47.31" stroke="#1e8a4c" stroke-width="0.95"/>
<line x1="277.39" y1="41.02" x2="281.6" y2="42.8" stroke="#1e8a4c" stroke-width="0.95"/>
<line x1="281.6" y1="42.8" x2="287.9" y2="40" stroke="#1e8a4c" stroke-width="0.95"/>
<line x1="287.9" y1="40" x2="294.1" y2="42.9" stroke="#1e8a4c" stroke-width="0.95"/>
<line x1="294.1" y1="42.9" x2="300.2" y2="40" stroke="#1e8a4c" stroke-width="0.95"/>
<line x1="300.2" y1="40" x2="306.2" y2="43" stroke="#1e8a4c" stroke-width="0.95"/>
<line x1="306.2" y1="43" x2="312.1" y2="40" stroke="#1e8a4c" stroke-width="0.95"/>
<line x1="312.78" y1="40" x2="312.78" y2="35.2" stroke="#1e8a4c" stroke-width="0.95"/>
<line x1="311.43" y1="40" x2="311.43" y2="35.2" stroke="#1e8a4c" stroke-width="0.95"/>
<line x1="312.1" y1="40" x2="315.9" y2="41.99" stroke="#1e8a4c" stroke-width="0.95"/>
<text x="318.2" y="49.36" fill="#1e8a4c" stroke="#1e8a4c" stroke-width="0.3" font-size="4.6" text-anchor="middle" font-weight="bold">H</text>
<line x1="320.5" y1="41.99" x2="324.3" y2="40" stroke="#1e8a4c" stroke-width="0.95"/>
<line x1="324.3" y1="40" x2="324.3" y2="32.6" stroke="#1e8a4c" stroke-width="0.95"/>
<line x1="324.3" y1="32.6" x2="320.3" y2="30" stroke="#1e8a4c" stroke-width="0.95"/>
<line x1="324.3" y1="32.6" x2="328.3" y2="30" stroke="#1e8a4c" stroke-width="0.95"/>
<text x="316.2" y="29.98" fill="#1e8a4c" stroke="#1e8a4c" stroke-width="0.3" font-size="4.4" text-anchor="middle" font-weight="bold">Me</text>
<text x="331.6" y="29.98" fill="#1e8a4c" stroke="#1e8a4c" stroke-width="0.3" font-size="4.4" text-anchor="middle" font-weight="bold">Me</text>
<line x1="324.3" y1="40" x2="330.4" y2="43.2" stroke="#1e8a4c" stroke-width="0.95"/>
<line x1="329.72" y1="43.2" x2="329.72" y2="48" stroke="#1e8a4c" stroke-width="0.95"/>
<line x1="331.07" y1="43.2" x2="331.07" y2="48" stroke="#1e8a4c" stroke-width="0.95"/>
<line x1="330.4" y1="43.2" x2="334.08" y2="40.95" stroke="#1e8a4c" stroke-width="0.95"/>
<text x="336.3" y="36.86" fill="#1e8a4c" stroke="#1e8a4c" stroke-width="0.3" font-size="4.6" text-anchor="middle" font-weight="bold">H</text>
<line x1="338.53" y1="40.94" x2="342.3" y2="43.2" stroke="#1e8a4c" stroke-width="0.95"/>
<polygon points="342.3,43.2 341.85,47.63 343.15,47.57" fill="#1e8a4c" stroke="#1e8a4c" stroke-width="0.3"/>
<text x="343.6" y="51.98" fill="#1e8a4c" stroke="#1e8a4c" stroke-width="0.3" font-size="4.4" text-anchor="middle" font-weight="bold">Me</text>
<line x1="342.3" y1="43.2" x2="348.5" y2="40" stroke="#1e8a4c" stroke-width="0.95"/>
<line x1="349.18" y1="40" x2="349.18" y2="35.2" stroke="#1e8a4c" stroke-width="0.95"/>
<line x1="347.82" y1="40" x2="347.82" y2="35.2" stroke="#1e8a4c" stroke-width="0.95"/>
<line x1="348.5" y1="40" x2="352.02" y2="41.94" stroke="#1e8a4c" stroke-width="0.95"/>
<text x="354.3" y="49.36" fill="#1e8a4c" stroke="#1e8a4c" stroke-width="0.3" font-size="4.6" text-anchor="middle" font-weight="bold">H</text>
<line x1="356.49" y1="42.21" x2="360.6" y2="40.35" stroke="#111" stroke-width="0.95"/>
<line x1="366.4" y1="30.3" x2="372.2" y2="33.65" stroke="#111" stroke-width="0.95"/>
<line x1="366.65" y1="32.06" x2="370.55" y2="34.31" stroke="#111" stroke-width="0.95"/>
<line x1="372.2" y1="33.65" x2="372.2" y2="40.35" stroke="#111" stroke-width="0.95"/>
<line x1="372.2" y1="40.35" x2="366.4" y2="43.7" stroke="#111" stroke-width="0.95"/>
<line x1="370.55" y1="39.69" x2="366.65" y2="41.94" stroke="#111" stroke-width="0.95"/>
<line x1="366.4" y1="43.7" x2="360.6" y2="40.35" stroke="#111" stroke-width="0.95"/>
<line x1="360.6" y1="40.35" x2="360.6" y2="33.65" stroke="#111" stroke-width="0.95"/>
<line x1="362" y1="39.25" x2="362" y2="34.75" stroke="#111" stroke-width="0.95"/>
<line x1="360.6" y1="33.65" x2="366.4" y2="30.3" stroke="#111" stroke-width="0.95"/>
<line x1="372.2" y1="33.65" x2="379.4" y2="29.5" stroke="#111" stroke-width="0.95"/>
<line x1="379.4" y1="29.5" x2="380" y2="24" stroke="#111" stroke-width="0.95"/>
<line x1="380" y1="24" x2="385.5" y2="21.7" stroke="#111" stroke-width="0.95"/>
<line x1="385.5" y1="21.7" x2="388.04" y2="26.78" stroke="#111" stroke-width="0.95"/>
<line x1="387.61" y1="29.52" x2="384.6" y2="32.6" stroke="#111" stroke-width="0.95"/>
<line x1="384.6" y1="32.6" x2="379.4" y2="29.5" stroke="#111" stroke-width="0.95"/>
<line x1="384.58" y1="31.07" x2="380.75" y2="28.79" stroke="#111" stroke-width="0.95"/>
<text x="383.3" y="18.66" fill="#111" stroke="#111" stroke-width="0.3" font-size="4.6" text-anchor="middle" font-weight="bold">H</text>
<line x1="385.5" y1="21.7" x2="384.2" y2="19.2" stroke="#111" stroke-width="0.95"/>
<line x1="385.5" y1="21.7" x2="389.7" y2="16.9" stroke="#111" stroke-width="0.95"/>
<line x1="389.7" y1="16.9" x2="394.63" y2="14.67" stroke="#111" stroke-width="0.95"/>
<line x1="390.24" y1="18.08" x2="395.17" y2="15.86" stroke="#111" stroke-width="0.95"/>
<line x1="399.05" y1="15.2" x2="402.42" y2="17.85" stroke="#111" stroke-width="0.95"/>
<line x1="408.4" y1="14.4" x2="414.38" y2="17.85" stroke="#111" stroke-width="0.95"/>
<line x1="414.38" y1="17.85" x2="414.38" y2="24.75" stroke="#111" stroke-width="0.95"/>
<line x1="412.98" y1="18.95" x2="412.98" y2="23.65" stroke="#111" stroke-width="0.95"/>
<line x1="414.38" y1="24.75" x2="408.4" y2="28.2" stroke="#111" stroke-width="0.95"/>
<line x1="408.4" y1="28.2" x2="402.42" y2="24.75" stroke="#111" stroke-width="0.95"/>
<line x1="408.15" y1="26.44" x2="404.08" y2="24.09" stroke="#111" stroke-width="0.95"/>
<line x1="402.42" y1="24.75" x2="402.42" y2="17.85" stroke="#111" stroke-width="0.95"/>
<line x1="402.42" y1="17.85" x2="408.4" y2="14.4" stroke="#111" stroke-width="0.95"/>
<line x1="404.08" y1="18.51" x2="408.15" y2="16.16" stroke="#111" stroke-width="0.95"/>
<line x1="402.42" y1="24.75" x2="398.3" y2="29.2" stroke="#111" stroke-width="0.95"/>
<line x1="398.3" y1="29.2" x2="390.49" y2="28.46" stroke="#111" stroke-width="0.95"/>
<line x1="397.63" y1="29.3" x2="398.25" y2="33.43" stroke="#111" stroke-width="0.95"/>
<line x1="398.97" y1="29.1" x2="399.58" y2="33.23" stroke="#111" stroke-width="0.95"/>
<line x1="414.38" y1="17.85" x2="418.44" y2="15.14" stroke="#111" stroke-width="0.95"/>
<line x1="414.38" y1="24.75" x2="418.6" y2="27.2" stroke="#111" stroke-width="0.95"/>
<text x="417.4" y="30" fill="#111" stroke="#111" stroke-width="0.3" font-size="4.7" text-anchor="start" font-weight="bold">OMe</text>
<line x1="422.79" y1="15.11" x2="426.2" y2="17.3" stroke="#111" stroke-width="0.95"/>
<line x1="426.2" y1="17.3" x2="432.3" y2="14.2" stroke="#111" stroke-width="0.95"/>
<line x1="432.3" y1="14.2" x2="438.4" y2="17.3" stroke="#111" stroke-width="0.95"/>
<line x1="438.4" y1="17.3" x2="442.63" y2="14.96" stroke="#111" stroke-width="0.95"/>
<line x1="447.01" y1="15.23" x2="450.62" y2="17.85" stroke="#111" stroke-width="0.95"/>
<line x1="456.6" y1="14.4" x2="462.58" y2="17.85" stroke="#111" stroke-width="0.95"/>
<line x1="456.85" y1="16.16" x2="460.92" y2="18.51" stroke="#111" stroke-width="0.95"/>
<line x1="462.58" y1="17.85" x2="462.58" y2="24.75" stroke="#111" stroke-width="0.95"/>
<line x1="462.58" y1="24.75" x2="456.6" y2="28.2" stroke="#111" stroke-width="0.95"/>
<line x1="460.92" y1="24.09" x2="456.85" y2="26.44" stroke="#111" stroke-width="0.95"/>
<line x1="456.6" y1="28.2" x2="450.62" y2="24.75" stroke="#111" stroke-width="0.95"/>
<line x1="450.62" y1="24.75" x2="450.62" y2="17.85" stroke="#111" stroke-width="0.95"/>
<line x1="452.02" y1="23.65" x2="452.02" y2="18.95" stroke="#111" stroke-width="0.95"/>
<line x1="450.62" y1="17.85" x2="456.6" y2="14.4" stroke="#111" stroke-width="0.95"/>
<line x1="450.62" y1="24.75" x2="446.6" y2="27.2" stroke="#111" stroke-width="0.95"/>
<text x="448" y="30" fill="#111" stroke="#111" stroke-width="0.3" font-size="4.7" text-anchor="end" font-weight="bold">MeO</text>
<line x1="462.58" y1="17.85" x2="466.21" y2="15.15" stroke="#111" stroke-width="0.95"/>
<line x1="470.67" y1="14.68" x2="474.9" y2="16.6" stroke="#111" stroke-width="0.95"/>
<line x1="470.13" y1="15.86" x2="474.36" y2="17.78" stroke="#111" stroke-width="0.95"/>
<line x1="474.9" y1="16.6" x2="478.9" y2="21.6" stroke="#111" stroke-width="0.95"/>
<text x="482.8" y="17.86" fill="#111" stroke="#111" stroke-width="0.3" font-size="4.6" text-anchor="middle" font-weight="bold">H</text>
<line x1="478.9" y1="21.6" x2="481.6" y2="18.4" stroke="#111" stroke-width="0.95"/>
<line x1="478.9" y1="21.6" x2="475.55" y2="26.59" stroke="#111" stroke-width="0.95"/>
<line x1="462.58" y1="24.75" x2="467.7" y2="29.3" stroke="#111" stroke-width="0.95"/>
<line x1="467.7" y1="29.3" x2="472.93" y2="28.31" stroke="#111" stroke-width="0.95"/>
<line x1="467.03" y1="29.21" x2="466.48" y2="33.23" stroke="#111" stroke-width="0.95"/>
<line x1="468.37" y1="29.39" x2="467.82" y2="33.42" stroke="#111" stroke-width="0.95"/>
<line x1="478.9" y1="21.6" x2="485" y2="23.6" stroke="#111" stroke-width="0.95"/>
<line x1="485" y1="23.6" x2="485.7" y2="29.4" stroke="#111" stroke-width="0.95"/>
<line x1="485.7" y1="29.4" x2="479.4" y2="32.2" stroke="#111" stroke-width="0.95"/>
<line x1="484.44" y1="28.54" x2="479.6" y2="30.69" stroke="#111" stroke-width="0.95"/>
<line x1="479.4" y1="32.2" x2="475.88" y2="29.12" stroke="#111" stroke-width="0.95"/>
<line x1="485.7" y1="29.4" x2="492.12" y2="32.05" stroke="#111" stroke-width="0.95"/>
<line x1="498.1" y1="28.6" x2="504.08" y2="32.05" stroke="#111" stroke-width="0.95"/>
<line x1="498.35" y1="30.36" x2="502.42" y2="32.71" stroke="#111" stroke-width="0.95"/>
<line x1="504.08" y1="32.05" x2="504.08" y2="38.95" stroke="#111" stroke-width="0.95"/>
<line x1="504.08" y1="38.95" x2="498.1" y2="42.4" stroke="#111" stroke-width="0.95"/>
<line x1="502.42" y1="38.29" x2="498.35" y2="40.64" stroke="#111" stroke-width="0.95"/>
<line x1="498.1" y1="42.4" x2="492.12" y2="38.95" stroke="#111" stroke-width="0.95"/>
<line x1="492.12" y1="38.95" x2="492.12" y2="32.05" stroke="#111" stroke-width="0.95"/>
<line x1="493.52" y1="37.85" x2="493.52" y2="33.15" stroke="#111" stroke-width="0.95"/>
<line x1="492.12" y1="32.05" x2="498.1" y2="28.6" stroke="#111" stroke-width="0.95"/>
<line x1="504.08" y1="38.95" x2="508.2" y2="40.5" stroke="#111" stroke-width="0.95"/>
<text x="508.6" y="42.9" fill="#111" stroke="#111" stroke-width="0.3" font-size="4.7" text-anchor="start" font-weight="bold">OMe</text>
<text x="275" y="41.76" fill="#1e8a4c" stroke="#1e8a4c" stroke-width="0.3" font-size="4.9" text-anchor="middle" font-weight="bold">N</text>
<text x="281" y="28.46" fill="#1e8a4c" stroke="#1e8a4c" stroke-width="0.3" font-size="4.9" text-anchor="middle" font-weight="bold">O</text>
<text x="267.7" y="51.56" fill="#1e8a4c" stroke="#1e8a4c" stroke-width="0.3" font-size="4.9" text-anchor="middle" font-weight="bold">O</text>
<text x="312.1" y="34.36" fill="#1e8a4c" stroke="#1e8a4c" stroke-width="0.3" font-size="4.9" text-anchor="middle" font-weight="bold">O</text>
<text x="318.2" y="44.96" fill="#1e8a4c" stroke="#1e8a4c" stroke-width="0.3" font-size="4.9" text-anchor="middle" font-weight="bold">N</text>
<text x="330.4" y="52.36" fill="#1e8a4c" stroke="#1e8a4c" stroke-width="0.3" font-size="4.9" text-anchor="middle" font-weight="bold">O</text>
<text x="336.3" y="41.36" fill="#1e8a4c" stroke="#1e8a4c" stroke-width="0.3" font-size="4.9" text-anchor="middle" font-weight="bold">N</text>
<text x="348.5" y="34.36" fill="#1e8a4c" stroke="#1e8a4c" stroke-width="0.3" font-size="4.9" text-anchor="middle" font-weight="bold">O</text>
<text x="354.3" y="44.96" fill="#1e8a4c" stroke="#1e8a4c" stroke-width="0.3" font-size="4.9" text-anchor="middle" font-weight="bold">N</text>
<text x="388.8" y="29.74" fill="#111" stroke="#111" stroke-width="0.3" font-size="4.0" text-anchor="middle" font-weight="bold">N</text>
<text x="397" y="15.36" fill="#111" stroke="#111" stroke-width="0.3" font-size="4.9" text-anchor="middle" font-weight="bold">N</text>
<text x="399.3" y="37.66" fill="#111" stroke="#111" stroke-width="0.3" font-size="4.9" text-anchor="middle" font-weight="bold">O</text>
<text x="420.6" y="15.46" fill="#111" stroke="#111" stroke-width="0.3" font-size="4.9" text-anchor="middle" font-weight="bold">O</text>
<text x="444.9" y="15.46" fill="#111" stroke="#111" stroke-width="0.3" font-size="4.9" text-anchor="middle" font-weight="bold">O</text>
<text x="468.3" y="15.36" fill="#111" stroke="#111" stroke-width="0.3" font-size="4.9" text-anchor="middle" font-weight="bold">N</text>
<text x="474.6" y="29.44" fill="#111" stroke="#111" stroke-width="0.3" font-size="4.0" text-anchor="middle" font-weight="bold">N</text>
<text x="466.8" y="37.66" fill="#111" stroke="#111" stroke-width="0.3" font-size="4.9" text-anchor="middle" font-weight="bold">O</text>
</g>
<g>
<text x="0.3" y="11.7" fill="#0a0a0a" stroke="#0a0a0a" stroke-width="0.22" font-size="12.0" text-anchor="start" font-weight="bold">A</text>
<text x="0.3" y="159.8" fill="#0a0a0a" stroke="#0a0a0a" stroke-width="0.22" font-size="11.8" text-anchor="start" font-weight="bold">B</text>
<text x="251" y="11.55" fill="#0a0a0a" stroke="#0a0a0a" stroke-width="0.22" font-size="12.2" text-anchor="start" font-weight="bold">C</text>
<text x="250.2" y="159.9" fill="#0a0a0a" stroke="#0a0a0a" stroke-width="0.22" font-size="11.7" text-anchor="start" font-weight="bold">D</text>
<text x="143.2" y="60.4" font-size="10.7" fill="#0a0a0a" stroke-width="0.15" stroke="#0a0a0a">mAb<tspan fill="#dc1f3f" stroke="#dc1f3f">-vc</tspan>MMAE</text>
<text x="142.7" y="141.8" font-size="10.7" fill="#0a0a0a" stroke-width="0.15" stroke="#0a0a0a">mAb<tspan fill="#5a4596" stroke="#5a4596">-gluc</tspan>MMAE</text>
<text x="394.2" y="55.8" font-size="10.7" fill="#0a0a0a" stroke-width="0.15" stroke="#0a0a0a">mAb<tspan fill="#2a9d58" stroke="#2a9d58">-val-ala</tspan>-PBD</text>
<line x1="47.5" y1="169.15" x2="47.5" y2="280.1" stroke="#0a0a0a" stroke-width="1.2"/>
<line x1="46.9" y1="279.5" x2="212.9" y2="279.5" stroke="#0a0a0a" stroke-width="1.2"/>
<line x1="44.9" y1="279.5" x2="47.5" y2="279.5" stroke="#0a0a0a" stroke-width="1.0"/>
<text x="42.5" y="281.45" fill="#0a0a0a" stroke="#0a0a0a" stroke-width="0.22" font-size="5.4" text-anchor="end" font-weight="normal">0</text>
<line x1="44.9" y1="257.53" x2="47.5" y2="257.53" stroke="#0a0a0a" stroke-width="1.0"/>
<text x="42.5" y="259.48" fill="#0a0a0a" stroke="#0a0a0a" stroke-width="0.22" font-size="5.4" text-anchor="end" font-weight="normal">200</text>
<line x1="44.9" y1="235.56" x2="47.5" y2="235.56" stroke="#0a0a0a" stroke-width="1.0"/>
<text x="42.5" y="237.51" fill="#0a0a0a" stroke="#0a0a0a" stroke-width="0.22" font-size="5.4" text-anchor="end" font-weight="normal">400</text>
<line x1="44.9" y1="213.59" x2="47.5" y2="213.59" stroke="#0a0a0a" stroke-width="1.0"/>
<text x="42.5" y="215.54" fill="#0a0a0a" stroke="#0a0a0a" stroke-width="0.22" font-size="5.4" text-anchor="end" font-weight="normal">600</text>
<line x1="44.9" y1="191.62" x2="47.5" y2="191.62" stroke="#0a0a0a" stroke-width="1.0"/>
<text x="42.5" y="193.57" fill="#0a0a0a" stroke="#0a0a0a" stroke-width="0.22" font-size="5.4" text-anchor="end" font-weight="normal">800</text>
<line x1="44.9" y1="169.65" x2="47.5" y2="169.65" stroke="#0a0a0a" stroke-width="1.0"/>
<text x="42.5" y="171.6" fill="#0a0a0a" stroke="#0a0a0a" stroke-width="0.22" font-size="5.4" text-anchor="end" font-weight="normal">1,000</text>
<line x1="47.5" y1="279.5" x2="47.5" y2="281.8" stroke="#0a0a0a" stroke-width="1.0"/>
<text x="47.5" y="290.2" fill="#0a0a0a" stroke="#0a0a0a" stroke-width="0.22" font-size="5.4" text-anchor="middle" font-weight="normal">0</text>
<line x1="88.8" y1="279.5" x2="88.8" y2="281.8" stroke="#0a0a0a" stroke-width="1.0"/>
<text x="88.8" y="290.2" fill="#0a0a0a" stroke="#0a0a0a" stroke-width="0.22" font-size="5.4" text-anchor="middle" font-weight="normal">10</text>
<line x1="130.1" y1="279.5" x2="130.1" y2="281.8" stroke="#0a0a0a" stroke-width="1.0"/>
<text x="130.1" y="290.2" fill="#0a0a0a" stroke="#0a0a0a" stroke-width="0.22" font-size="5.4" text-anchor="middle" font-weight="normal">20</text>
<line x1="171.4" y1="279.5" x2="171.4" y2="281.8" stroke="#0a0a0a" stroke-width="1.0"/>
<text x="171.4" y="290.2" fill="#0a0a0a" stroke="#0a0a0a" stroke-width="0.22" font-size="5.4" text-anchor="middle" font-weight="normal">30</text>
<line x1="212.7" y1="279.5" x2="212.7" y2="281.8" stroke="#0a0a0a" stroke-width="1.0"/>
<text x="212.7" y="290.2" fill="#0a0a0a" stroke="#0a0a0a" stroke-width="0.22" font-size="5.4" text-anchor="middle" font-weight="normal">40</text>
<text transform="translate(25.2,221) rotate(-90)" font-size="7.8" text-anchor="middle" fill="#0a0a0a" stroke="#0a0a0a" stroke-width="0.2">Tumor volume (mean+SEM)/mm<tspan font-size="5" dy="-2.6">3</tspan></text>
<text x="129.5" y="300.8" fill="#0a0a0a" stroke="#0a0a0a" stroke-width="0.22" font-size="7.75" text-anchor="middle" font-weight="normal">Days post implant</text>
<line x1="117.71" y1="206.34" x2="117.71" y2="193.82" stroke="#999" stroke-width="1.1"/>
<line x1="115.71" y1="193.82" x2="119.71" y2="193.82" stroke="#999" stroke-width="1.1"/>
<line x1="175.53" y1="272.91" x2="175.53" y2="268.51" stroke="#c0509a" stroke-width="1.1"/>
<line x1="172.53" y1="268.51" x2="178.53" y2="268.51" stroke="#c0509a" stroke-width="1.1"/>
<polyline points="76.41,270.71 92.93,274.34 105.32,278.95 117.71,279.5 134.23,279.5 146.62,277.74 163.14,275.55 175.53,272.03" fill="none" stroke="#4b2f8f" stroke-width="1.4"/>
<polygon points="76.41,267.91 79.21,270.71 76.41,273.51 73.61,270.71" fill="#4b2f8f" stroke="#4b2f8f" stroke-width="0.6"/>
<polygon points="92.93,271.54 95.73,274.34 92.93,277.14 90.13,274.34" fill="#4b2f8f" stroke="#4b2f8f" stroke-width="0.6"/>
<polygon points="105.32,276.15 108.12,278.95 105.32,281.75 102.52,278.95" fill="#4b2f8f" stroke="#4b2f8f" stroke-width="0.6"/>
<polygon points="117.71,276.7 120.51,279.5 117.71,282.3 114.91,279.5" fill="#4b2f8f" stroke="#4b2f8f" stroke-width="0.6"/>
<polygon points="134.23,276.7 137.03,279.5 134.23,282.3 131.43,279.5" fill="#4b2f8f" stroke="#4b2f8f" stroke-width="0.6"/>
<polygon points="146.62,274.94 149.42,277.74 146.62,280.54 143.82,277.74" fill="#4b2f8f" stroke="#4b2f8f" stroke-width="0.6"/>
<polygon points="163.14,272.75 165.94,275.55 163.14,278.35 160.34,275.55" fill="#4b2f8f" stroke="#4b2f8f" stroke-width="0.6"/>
<polygon points="175.53,269.23 178.33,272.03 175.53,274.83 172.73,272.03" fill="#4b2f8f" stroke="#4b2f8f" stroke-width="0.6"/>
<polyline points="76.41,270.71 92.93,274.34 105.32,278.95 117.71,279.5 134.23,279.5 146.62,278.62 163.14,276.64 175.53,273.13" fill="none" stroke="#dc1f3f" stroke-width="1.25"/>
<polygon points="76.41,268.01 79.11,270.71 76.41,273.41 73.71,270.71" fill="#dc1f3f" stroke="#dc1f3f" stroke-width="0.6"/>
<polygon points="92.93,271.64 95.63,274.34 92.93,277.04 90.23,274.34" fill="#dc1f3f" stroke="#dc1f3f" stroke-width="0.6"/>
<polygon points="105.32,276.25 108.02,278.95 105.32,281.65 102.62,278.95" fill="#dc1f3f" stroke="#dc1f3f" stroke-width="0.6"/>
<polygon points="117.71,276.8 120.41,279.5 117.71,282.2 115.01,279.5" fill="#dc1f3f" stroke="#dc1f3f" stroke-width="0.6"/>
<polygon points="134.23,276.8 136.93,279.5 134.23,282.2 131.53,279.5" fill="#dc1f3f" stroke="#dc1f3f" stroke-width="0.6"/>
<polygon points="146.62,275.92 149.32,278.62 146.62,281.32 143.92,278.62" fill="#dc1f3f" stroke="#dc1f3f" stroke-width="0.6"/>
<polygon points="163.14,273.94 165.84,276.64 163.14,279.34 160.44,276.64" fill="#dc1f3f" stroke="#dc1f3f" stroke-width="0.6"/>
<polygon points="175.53,270.43 178.23,273.13 175.53,275.83 172.83,273.13" fill="#dc1f3f" stroke="#dc1f3f" stroke-width="0.6"/>
<polyline points="76.41,270.71 92.93,263.46 105.32,244.24 117.71,206.34" fill="none" stroke="#0a0a0a" stroke-width="1.5" stroke-dasharray="2.6 1.7"/>
<line x1="74.31" y1="268.61" x2="78.51" y2="272.81" stroke="#0a0a0a" stroke-width="1.7"/>
<line x1="74.31" y1="272.81" x2="78.51" y2="268.61" stroke="#0a0a0a" stroke-width="1.7"/>
<line x1="90.83" y1="261.36" x2="95.03" y2="265.56" stroke="#0a0a0a" stroke-width="1.7"/>
<line x1="90.83" y1="265.56" x2="95.03" y2="261.36" stroke="#0a0a0a" stroke-width="1.7"/>
<line x1="103.22" y1="242.14" x2="107.42" y2="246.34" stroke="#0a0a0a" stroke-width="1.7"/>
<line x1="103.22" y1="246.34" x2="107.42" y2="242.14" stroke="#0a0a0a" stroke-width="1.7"/>
<line x1="115.61" y1="204.24" x2="119.81" y2="208.44" stroke="#0a0a0a" stroke-width="1.7"/>
<line x1="115.61" y1="208.44" x2="119.81" y2="204.24" stroke="#0a0a0a" stroke-width="1.7"/>
<text x="76.4" y="255.8" fill="#0a0a0a" stroke="#0a0a0a" stroke-width="0.22" font-size="5.4" text-anchor="middle" font-weight="normal">Rx</text>
<line x1="76.6" y1="256.8" x2="76.6" y2="261" stroke="#0a0a0a" stroke-width="1.3"/>
<polygon points="74.2,259.9 79.0,259.9 76.6,264.6" fill="#0a0a0a"/>
<line x1="129.8" y1="175.5" x2="137.6" y2="175.5" stroke="#0a0a0a" stroke-width="1.2" stroke-dasharray="1.5 1.3"/>
<line x1="131.5" y1="173.4" x2="135.7" y2="177.6" stroke="#0a0a0a" stroke-width="1.6"/>
<line x1="131.5" y1="177.6" x2="135.7" y2="173.4" stroke="#0a0a0a" stroke-width="1.6"/>
<text x="143.7" y="177.8" fill="#0a0a0a" stroke="#0a0a0a" stroke-width="0.22" font-size="6.05" text-anchor="start" font-weight="normal">Untreated</text>
<line x1="129.5" y1="185.9" x2="138.2" y2="185.9" stroke="#dc1f3f" stroke-width="1.3"/>
<polygon points="133.8,183.4 136.3,185.9 133.8,188.4 131.3,185.9" fill="#dc1f3f" stroke="#dc1f3f" stroke-width="0.6"/>
<polygon points="133.8,183.5 136.8,185.9 133.8,188.3 130.8,185.9" fill="#dc1f3f"/>
<text x="143.7" y="188.3" fill="#0a0a0a" stroke="#0a0a0a" stroke-width="0.22" font-size="6.05" text-anchor="start" font-weight="normal">cAC10-vcMMAE</text>
<line x1="129.5" y1="196" x2="138.2" y2="196" stroke="#4b2f8f" stroke-width="1.3"/>
<polygon points="133.8,192.9 136.9,196 133.8,199.1 130.7,196" fill="#4b2f8f" stroke="#4b2f8f" stroke-width="0.6"/>
<polygon points="133.8,194.0 135.6,195.8 132.0,195.8" fill="#fff"/>
<text x="143.7" y="198.5" fill="#0a0a0a" stroke="#0a0a0a" stroke-width="0.22" font-size="6.05" text-anchor="start" font-weight="normal">cAC10-GlucMMAE</text>
<line x1="309.5" y1="169.7" x2="309.5" y2="280.5" stroke="#0a0a0a" stroke-width="1.2"/>
<line x1="308.9" y1="279.9" x2="475.3" y2="279.9" stroke="#0a0a0a" stroke-width="1.2"/>
<line x1="306.9" y1="279.9" x2="309.5" y2="279.9" stroke="#0a0a0a" stroke-width="1.0"/>
<text x="304.5" y="281.85" fill="#0a0a0a" stroke="#0a0a0a" stroke-width="0.22" font-size="5.4" text-anchor="end" font-weight="normal">0</text>
<line x1="306.9" y1="257.96" x2="309.5" y2="257.96" stroke="#0a0a0a" stroke-width="1.0"/>
<text x="304.5" y="259.91" fill="#0a0a0a" stroke="#0a0a0a" stroke-width="0.22" font-size="5.4" text-anchor="end" font-weight="normal">200</text>
<line x1="306.9" y1="236.02" x2="309.5" y2="236.02" stroke="#0a0a0a" stroke-width="1.0"/>
<text x="304.5" y="237.97" fill="#0a0a0a" stroke="#0a0a0a" stroke-width="0.22" font-size="5.4" text-anchor="end" font-weight="normal">400</text>
<line x1="306.9" y1="214.08" x2="309.5" y2="214.08" stroke="#0a0a0a" stroke-width="1.0"/>
<text x="304.5" y="216.03" fill="#0a0a0a" stroke="#0a0a0a" stroke-width="0.22" font-size="5.4" text-anchor="end" font-weight="normal">600</text>
<line x1="306.9" y1="192.14" x2="309.5" y2="192.14" stroke="#0a0a0a" stroke-width="1.0"/>
<text x="304.5" y="194.09" fill="#0a0a0a" stroke="#0a0a0a" stroke-width="0.22" font-size="5.4" text-anchor="end" font-weight="normal">800</text>
<line x1="306.9" y1="170.2" x2="309.5" y2="170.2" stroke="#0a0a0a" stroke-width="1.0"/>
<text x="304.5" y="172.15" fill="#0a0a0a" stroke="#0a0a0a" stroke-width="0.22" font-size="5.4" text-anchor="end" font-weight="normal">1,000</text>
<line x1="309.5" y1="279.9" x2="309.5" y2="282.2" stroke="#0a0a0a" stroke-width="1.0"/>
<text x="309.5" y="290.6" fill="#0a0a0a" stroke="#0a0a0a" stroke-width="0.22" font-size="5.4" text-anchor="middle" font-weight="normal">0</text>
<line x1="350.9" y1="279.9" x2="350.9" y2="282.2" stroke="#0a0a0a" stroke-width="1.0"/>
<text x="350.9" y="290.6" fill="#0a0a0a" stroke="#0a0a0a" stroke-width="0.22" font-size="5.4" text-anchor="middle" font-weight="normal">10</text>
<line x1="392.3" y1="279.9" x2="392.3" y2="282.2" stroke="#0a0a0a" stroke-width="1.0"/>
<text x="392.3" y="290.6" fill="#0a0a0a" stroke="#0a0a0a" stroke-width="0.22" font-size="5.4" text-anchor="middle" font-weight="normal">20</text>
<line x1="433.7" y1="279.9" x2="433.7" y2="282.2" stroke="#0a0a0a" stroke-width="1.0"/>
<text x="433.7" y="290.6" fill="#0a0a0a" stroke="#0a0a0a" stroke-width="0.22" font-size="5.4" text-anchor="middle" font-weight="normal">30</text>
<line x1="475.1" y1="279.9" x2="475.1" y2="282.2" stroke="#0a0a0a" stroke-width="1.0"/>
<text x="475.1" y="290.6" fill="#0a0a0a" stroke="#0a0a0a" stroke-width="0.22" font-size="5.4" text-anchor="middle" font-weight="normal">40</text>
<text transform="translate(285.8,222.5) rotate(-90)" font-size="7.8" text-anchor="middle" fill="#0a0a0a" stroke="#0a0a0a" stroke-width="0.2">Tumor volume (mean+SEM)/mm<tspan font-size="5" dy="-2.6">3</tspan></text>
<text x="381.9" y="300.8" fill="#0a0a0a" stroke="#0a0a0a" stroke-width="0.22" font-size="7.75" text-anchor="middle" font-weight="normal">Days post implant</text>
<line x1="379.88" y1="201.68" x2="379.88" y2="192.36" stroke="#0a0a0a" stroke-width="1.0"/>
<line x1="377.48" y1="192.36" x2="382.28" y2="192.36" stroke="#0a0a0a" stroke-width="1.0"/>
<line x1="367.46" y1="250.72" x2="367.46" y2="244.8" stroke="#1a8c48" stroke-width="1.0"/>
<line x1="365.26" y1="244.8" x2="369.66" y2="244.8" stroke="#1a8c48" stroke-width="1.0"/>
<line x1="379.88" y1="225.49" x2="379.88" y2="215.73" stroke="#1a8c48" stroke-width="1.0"/>
<line x1="377.68" y1="215.73" x2="382.08" y2="215.73" stroke="#1a8c48" stroke-width="1.0"/>
<line x1="392.3" y1="199.16" x2="392.3" y2="188.63" stroke="#1a8c48" stroke-width="1.0"/>
<line x1="389.9" y1="188.63" x2="394.7" y2="188.63" stroke="#1a8c48" stroke-width="1.0"/>
<polyline points="334.34,271.12 350.9,259.61 367.46,234.7 379.88,201.46" fill="none" stroke="#0a0a0a" stroke-width="1.3" stroke-dasharray="2.6 1.7"/>
<line x1="331.64" y1="268.42" x2="337.04" y2="273.82" stroke="#0a0a0a" stroke-width="1.0"/>
<line x1="331.64" y1="273.82" x2="337.04" y2="268.42" stroke="#0a0a0a" stroke-width="1.0"/>
<line x1="348.2" y1="256.91" x2="353.6" y2="262.31" stroke="#0a0a0a" stroke-width="1.0"/>
<line x1="348.2" y1="262.31" x2="353.6" y2="256.91" stroke="#0a0a0a" stroke-width="1.0"/>
<line x1="364.76" y1="232" x2="370.16" y2="237.4" stroke="#0a0a0a" stroke-width="1.0"/>
<line x1="364.76" y1="237.4" x2="370.16" y2="232" stroke="#0a0a0a" stroke-width="1.0"/>
<line x1="377.18" y1="198.76" x2="382.58" y2="204.16" stroke="#0a0a0a" stroke-width="1.0"/>
<line x1="377.18" y1="204.16" x2="382.58" y2="198.76" stroke="#0a0a0a" stroke-width="1.0"/>
<polyline points="334.34,271.12 350.9,263.66 367.46,250.72 379.88,226.15 392.3,199.6" fill="none" stroke="#1a8c48" stroke-width="1.4"/>
<polygon points="334.34,268.29 337.04,273.28 331.64,273.28" fill="#fff" stroke="#1a8c48" stroke-width="1.15" stroke-linejoin="miter"/>
<polygon points="350.9,260.83 353.6,265.82 348.2,265.82" fill="#fff" stroke="#1a8c48" stroke-width="1.15" stroke-linejoin="miter"/>
<polygon points="367.46,247.88 370.16,252.88 364.76,252.88" fill="#fff" stroke="#1a8c48" stroke-width="1.15" stroke-linejoin="miter"/>
<polygon points="379.88,223.31 382.58,228.31 377.18,228.31" fill="#fff" stroke="#1a8c48" stroke-width="1.15" stroke-linejoin="miter"/>
<polygon points="392.3,196.76 395,201.76 389.6,201.76" fill="#fff" stroke="#1a8c48" stroke-width="1.15" stroke-linejoin="miter"/>
<polyline points="334.34,271.12 350.9,270.47 367.46,276.17 379.88,279.9 392.3,279.9" fill="none" stroke="#1a8c48" stroke-width="1.4"/>
<polygon points="334.34,268.29 337.04,273.28 331.64,273.28" fill="#1a8c48" stroke="#1a8c48" stroke-width="1.15" stroke-linejoin="miter"/>
<polygon points="350.9,267.63 353.6,272.63 348.2,272.63" fill="#1a8c48" stroke="#1a8c48" stroke-width="1.15" stroke-linejoin="miter"/>
<polygon points="367.46,273.34 370.16,278.33 364.76,278.33" fill="#1a8c48" stroke="#1a8c48" stroke-width="1.15" stroke-linejoin="miter"/>
<polygon points="379.88,277.06 382.58,282.06 377.18,282.06" fill="#1a8c48" stroke="#1a8c48" stroke-width="1.15" stroke-linejoin="miter"/>
<polygon points="392.3,277.06 395,282.06 389.6,282.06" fill="#1a8c48" stroke="#1a8c48" stroke-width="1.15" stroke-linejoin="miter"/>
<polyline points="334.34,271.12 350.9,276.94 367.46,279.9 379.88,279.9 392.3,279.9 404.72,279.9 421.28,279.9 433.7,279.9 454.4,279.9 466.82,279.9" fill="none" stroke="#e3222b" stroke-width="1.4"/>
<rect x="331.34" y="268.12" width="6" height="6" fill="#e3222b"/>
<rect x="347.9" y="273.94" width="6" height="6" fill="#e3222b"/>
<rect x="364.46" y="276.9" width="6" height="6" fill="#e3222b"/>
<rect x="376.88" y="276.9" width="6" height="6" fill="#e3222b"/>
<rect x="389.3" y="276.9" width="6" height="6" fill="#e3222b"/>
<rect x="401.72" y="276.9" width="6" height="6" fill="#e3222b"/>
<rect x="418.28" y="276.9" width="6" height="6" fill="#e3222b"/>
<rect x="430.7" y="276.9" width="6" height="6" fill="#e3222b"/>
<rect x="451.4" y="276.9" width="6" height="6" fill="#e3222b"/>
<rect x="463.82" y="276.9" width="6" height="6" fill="#e3222b"/>
<text x="333.6" y="254.9" fill="#0a0a0a" stroke="#0a0a0a" stroke-width="0.22" font-size="5.4" text-anchor="middle" font-weight="bold">Rx</text>
<line x1="333.6" y1="256.6" x2="333.6" y2="262" stroke="#0a0a0a" stroke-width="1.3"/>
<polygon points="331.1,260.7 336.1,260.7 333.6,265.6" fill="#0a0a0a"/>
<line x1="404" y1="204.2" x2="413.6" y2="204.2" stroke="#0a0a0a" stroke-width="1.1" stroke-dasharray="1.6 1.3"/>
<line x1="405.8" y1="201.7" x2="410.8" y2="206.7" stroke="#0a0a0a" stroke-width="1.0"/>
<line x1="405.8" y1="206.7" x2="410.8" y2="201.7" stroke="#0a0a0a" stroke-width="1.0"/>
<text x="418" y="206.6" fill="#0a0a0a" stroke="#0a0a0a" stroke-width="0.22" font-size="6.0" text-anchor="start" font-weight="normal">Untreated</text>
<line x1="403.8" y1="214.1" x2="413" y2="214.1" stroke="#e3222b" stroke-width="1.3"/>
<rect x="405.4" y="211.1" width="6" height="6" fill="#e3222b"/>
<text x="418" y="216.3" fill="#0a0a0a" stroke="#0a0a0a" stroke-width="0.22" font-size="6.0" text-anchor="start" font-weight="normal">cAC10-vcMMAE</text>
<line x1="403.8" y1="224.1" x2="413" y2="224.1" stroke="#1a8c48" stroke-width="1.3"/>
<polygon points="408.4,220.96 411.2,226.14 405.6,226.14" fill="#1a8c48" stroke="#1a8c48" stroke-width="1.15" stroke-linejoin="miter"/>
<text x="418" y="226.5" fill="#0a0a0a" stroke="#0a0a0a" stroke-width="0.22" font-size="6.0" text-anchor="start" font-weight="normal">cAC10ec-PBD</text>
<line x1="403.8" y1="234" x2="413" y2="234" stroke="#1a8c48" stroke-width="1.3"/>
<polygon points="408.4,230.86 411.2,236.04 405.6,236.04" fill="#fff" stroke="#1a8c48" stroke-width="1.15" stroke-linejoin="miter"/>
<text x="418" y="236.4" fill="#0a0a0a" stroke="#0a0a0a" stroke-width="0.22" font-size="6.0" text-anchor="start" font-weight="normal">IgGec-PBD</text>
</g>
</g>
</svg>
</body></html>
